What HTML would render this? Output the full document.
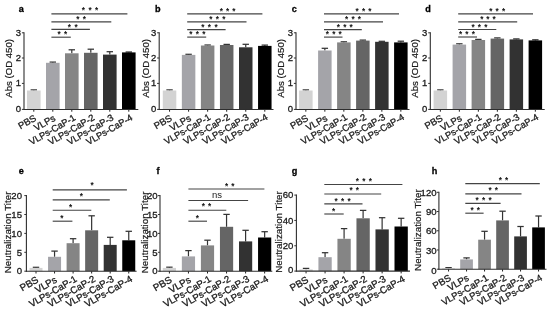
<!DOCTYPE html>
<html><head><meta charset="utf-8"><title>Figure</title>
<style>
html,body{margin:0;padding:0;background:#fff;overflow:hidden;}
svg{display:block;font-family:"Liberation Sans",sans-serif;filter:blur(0.35px);}
</style></head><body>
<svg width="550" height="312" viewBox="0 0 550 312">
<rect width="550" height="312" fill="#ffffff"/>
<line x1="33.80" y1="90.50" x2="33.80" y2="89.90" stroke="#333" stroke-width="1.2"/>
<line x1="30.60" y1="89.90" x2="37.00" y2="89.90" stroke="#333" stroke-width="1.25"/>
<rect x="27.00" y="90.50" width="13.6" height="18.90" fill="#d3d3d3"/>
<line x1="33.80" y1="109.40" x2="33.80" y2="111.70" stroke="#222" stroke-width="1.0"/>
<text transform="translate(37.00,120.00) rotate(-30)" font-size="9.5" text-anchor="end" fill="#1a1a1a" stroke="#1a1a1a" stroke-width="0.3">PBS</text>
<line x1="52.80" y1="62.80" x2="52.80" y2="62.10" stroke="#333" stroke-width="1.2"/>
<line x1="49.60" y1="62.10" x2="56.00" y2="62.10" stroke="#333" stroke-width="1.25"/>
<rect x="46.00" y="62.80" width="13.6" height="46.60" fill="#a4a4a9"/>
<line x1="52.80" y1="109.40" x2="52.80" y2="111.70" stroke="#222" stroke-width="1.0"/>
<text transform="translate(56.00,120.00) rotate(-30)" font-size="9.5" text-anchor="end" fill="#1a1a1a" stroke="#1a1a1a" stroke-width="0.3">VLPs</text>
<line x1="71.80" y1="53.30" x2="71.80" y2="49.80" stroke="#333" stroke-width="1.2"/>
<line x1="68.60" y1="49.80" x2="75.00" y2="49.80" stroke="#333" stroke-width="1.25"/>
<rect x="65.00" y="53.30" width="13.6" height="56.10" fill="#858585"/>
<line x1="71.80" y1="109.40" x2="71.80" y2="111.70" stroke="#222" stroke-width="1.0"/>
<text transform="translate(76.30,119.50) rotate(-30)" font-size="9.3" text-anchor="end" fill="#1a1a1a" stroke="#1a1a1a" stroke-width="0.3">VLPs-CaP-1</text>
<line x1="90.80" y1="52.80" x2="90.80" y2="49.20" stroke="#333" stroke-width="1.2"/>
<line x1="87.60" y1="49.20" x2="94.00" y2="49.20" stroke="#333" stroke-width="1.25"/>
<rect x="84.00" y="52.80" width="13.6" height="56.60" fill="#656565"/>
<line x1="90.80" y1="109.40" x2="90.80" y2="111.70" stroke="#222" stroke-width="1.0"/>
<text transform="translate(95.30,119.50) rotate(-30)" font-size="9.3" text-anchor="end" fill="#1a1a1a" stroke="#1a1a1a" stroke-width="0.3">VLPs-CaP-2</text>
<line x1="109.80" y1="54.60" x2="109.80" y2="51.70" stroke="#333" stroke-width="1.2"/>
<line x1="106.60" y1="51.70" x2="113.00" y2="51.70" stroke="#333" stroke-width="1.25"/>
<rect x="103.00" y="54.60" width="13.6" height="54.80" fill="#323232"/>
<line x1="109.80" y1="109.40" x2="109.80" y2="111.70" stroke="#222" stroke-width="1.0"/>
<text transform="translate(114.30,119.50) rotate(-30)" font-size="9.3" text-anchor="end" fill="#1a1a1a" stroke="#1a1a1a" stroke-width="0.3">VLPs-CaP-3</text>
<line x1="128.80" y1="52.40" x2="128.80" y2="52.00" stroke="#333" stroke-width="1.2"/>
<line x1="125.60" y1="52.00" x2="132.00" y2="52.00" stroke="#333" stroke-width="1.25"/>
<rect x="122.00" y="52.40" width="13.6" height="57.00" fill="#000000"/>
<line x1="128.80" y1="109.40" x2="128.80" y2="111.70" stroke="#222" stroke-width="1.0"/>
<text transform="translate(133.30,119.50) rotate(-30)" font-size="9.3" text-anchor="end" fill="#1a1a1a" stroke="#1a1a1a" stroke-width="0.3">VLPs-CaP-4</text>
<line x1="24.00" y1="32.30" x2="24.00" y2="109.90" stroke="#2e2e2e" stroke-width="1.1"/>
<line x1="23.50" y1="109.40" x2="138.30" y2="109.40" stroke="#2e2e2e" stroke-width="1.05"/>
<line x1="21.90" y1="109.40" x2="24.00" y2="109.40" stroke="#333" stroke-width="1.0"/>
<text x="21.10" y="112.00" font-size="9.5" text-anchor="end" fill="#1a1a1a" stroke="#1a1a1a" stroke-width="0.3">0</text>
<line x1="21.90" y1="83.40" x2="24.00" y2="83.40" stroke="#333" stroke-width="1.0"/>
<text x="21.10" y="86.00" font-size="9.5" text-anchor="end" fill="#1a1a1a" stroke="#1a1a1a" stroke-width="0.3">1</text>
<line x1="21.90" y1="58.00" x2="24.00" y2="58.00" stroke="#333" stroke-width="1.0"/>
<text x="21.10" y="61.00" font-size="9.5" text-anchor="end" fill="#1a1a1a" stroke="#1a1a1a" stroke-width="0.3">2</text>
<line x1="21.90" y1="32.80" x2="24.00" y2="32.80" stroke="#333" stroke-width="1.0"/>
<text x="21.10" y="36.00" font-size="9.5" text-anchor="end" fill="#1a1a1a" stroke="#1a1a1a" stroke-width="0.3">3</text>
<text transform="translate(11.60,68.40) rotate(-90)" font-size="9.6" text-anchor="middle" fill="#1a1a1a" stroke="#1a1a1a" stroke-width="0.2">Abs (OD 450)</text>
<text x="18.80" y="11.80" font-size="9.1" text-anchor="start" fill="#000" font-weight="bold" stroke="#000" stroke-width="0.3">a</text>
<line x1="51.40" y1="13.80" x2="127.40" y2="13.80" stroke="#444" stroke-width="1.15"/>
<text x="83.40" y="13.40" font-size="8.2" text-anchor="middle" fill="#111" font-weight="bold">*</text>
<text x="90.00" y="13.40" font-size="8.2" text-anchor="middle" fill="#111" font-weight="bold">*</text>
<text x="96.50" y="13.40" font-size="8.2" text-anchor="middle" fill="#111" font-weight="bold">*</text>
<line x1="51.40" y1="21.90" x2="111.30" y2="21.90" stroke="#444" stroke-width="1.15"/>
<text x="77.80" y="21.70" font-size="8.2" text-anchor="middle" fill="#111" font-weight="bold">*</text>
<text x="84.30" y="21.70" font-size="8.2" text-anchor="middle" fill="#111" font-weight="bold">*</text>
<line x1="51.40" y1="29.40" x2="89.90" y2="29.40" stroke="#444" stroke-width="1.15"/>
<text x="69.40" y="29.70" font-size="8.2" text-anchor="middle" fill="#111" font-weight="bold">*</text>
<text x="76.00" y="29.70" font-size="8.2" text-anchor="middle" fill="#111" font-weight="bold">*</text>
<line x1="51.40" y1="37.20" x2="70.80" y2="37.20" stroke="#444" stroke-width="1.15"/>
<text x="59.00" y="37.30" font-size="8.2" text-anchor="middle" fill="#111" font-weight="bold">*</text>
<text x="65.60" y="37.30" font-size="8.2" text-anchor="middle" fill="#111" font-weight="bold">*</text>
<line x1="169.55" y1="90.50" x2="169.55" y2="89.90" stroke="#333" stroke-width="1.2"/>
<line x1="166.35" y1="89.90" x2="172.75" y2="89.90" stroke="#333" stroke-width="1.25"/>
<rect x="162.80" y="90.50" width="13.5" height="18.90" fill="#d3d3d3"/>
<line x1="169.55" y1="109.40" x2="169.55" y2="111.70" stroke="#222" stroke-width="1.0"/>
<text transform="translate(172.75,120.00) rotate(-30)" font-size="9.5" text-anchor="end" fill="#1a1a1a" stroke="#1a1a1a" stroke-width="0.3">PBS</text>
<line x1="188.60" y1="54.90" x2="188.60" y2="54.30" stroke="#333" stroke-width="1.2"/>
<line x1="185.40" y1="54.30" x2="191.80" y2="54.30" stroke="#333" stroke-width="1.25"/>
<rect x="181.85" y="54.90" width="13.5" height="54.50" fill="#a4a4a9"/>
<line x1="188.60" y1="109.40" x2="188.60" y2="111.70" stroke="#222" stroke-width="1.0"/>
<text transform="translate(191.80,120.00) rotate(-30)" font-size="9.5" text-anchor="end" fill="#1a1a1a" stroke="#1a1a1a" stroke-width="0.3">VLPs</text>
<line x1="207.65" y1="45.50" x2="207.65" y2="45.00" stroke="#333" stroke-width="1.2"/>
<line x1="204.45" y1="45.00" x2="210.85" y2="45.00" stroke="#333" stroke-width="1.25"/>
<rect x="200.90" y="45.50" width="13.5" height="63.90" fill="#858585"/>
<line x1="207.65" y1="109.40" x2="207.65" y2="111.70" stroke="#222" stroke-width="1.0"/>
<text transform="translate(211.35,119.00) rotate(-30)" font-size="9.3" text-anchor="end" fill="#1a1a1a" stroke="#1a1a1a" stroke-width="0.3">VLPs-CaP-1</text>
<line x1="226.70" y1="45.00" x2="226.70" y2="44.40" stroke="#333" stroke-width="1.2"/>
<line x1="223.50" y1="44.40" x2="229.90" y2="44.40" stroke="#333" stroke-width="1.25"/>
<rect x="219.95" y="45.00" width="13.5" height="64.40" fill="#656565"/>
<line x1="226.70" y1="109.40" x2="226.70" y2="111.70" stroke="#222" stroke-width="1.0"/>
<text transform="translate(230.40,119.00) rotate(-30)" font-size="9.3" text-anchor="end" fill="#1a1a1a" stroke="#1a1a1a" stroke-width="0.3">VLPs-CaP-2</text>
<line x1="245.75" y1="47.30" x2="245.75" y2="44.30" stroke="#333" stroke-width="1.2"/>
<line x1="242.55" y1="44.30" x2="248.95" y2="44.30" stroke="#333" stroke-width="1.25"/>
<rect x="239.00" y="47.30" width="13.5" height="62.10" fill="#323232"/>
<line x1="245.75" y1="109.40" x2="245.75" y2="111.70" stroke="#222" stroke-width="1.0"/>
<text transform="translate(249.45,119.00) rotate(-30)" font-size="9.3" text-anchor="end" fill="#1a1a1a" stroke="#1a1a1a" stroke-width="0.3">VLPs-CaP-3</text>
<line x1="264.80" y1="45.90" x2="264.80" y2="45.10" stroke="#333" stroke-width="1.2"/>
<line x1="261.60" y1="45.10" x2="268.00" y2="45.10" stroke="#333" stroke-width="1.25"/>
<rect x="258.05" y="45.90" width="13.5" height="63.50" fill="#000000"/>
<line x1="264.80" y1="109.40" x2="264.80" y2="111.70" stroke="#222" stroke-width="1.0"/>
<text transform="translate(268.50,119.00) rotate(-30)" font-size="9.3" text-anchor="end" fill="#1a1a1a" stroke="#1a1a1a" stroke-width="0.3">VLPs-CaP-4</text>
<line x1="159.20" y1="32.30" x2="159.20" y2="109.90" stroke="#2e2e2e" stroke-width="1.1"/>
<line x1="158.70" y1="109.40" x2="273.50" y2="109.40" stroke="#2e2e2e" stroke-width="1.05"/>
<line x1="157.10" y1="109.40" x2="159.20" y2="109.40" stroke="#333" stroke-width="1.0"/>
<text x="156.30" y="112.00" font-size="9.5" text-anchor="end" fill="#1a1a1a" stroke="#1a1a1a" stroke-width="0.3">0</text>
<line x1="157.10" y1="83.40" x2="159.20" y2="83.40" stroke="#333" stroke-width="1.0"/>
<text x="156.30" y="86.00" font-size="9.5" text-anchor="end" fill="#1a1a1a" stroke="#1a1a1a" stroke-width="0.3">1</text>
<line x1="157.10" y1="58.00" x2="159.20" y2="58.00" stroke="#333" stroke-width="1.0"/>
<text x="156.30" y="61.00" font-size="9.5" text-anchor="end" fill="#1a1a1a" stroke="#1a1a1a" stroke-width="0.3">2</text>
<line x1="157.10" y1="32.80" x2="159.20" y2="32.80" stroke="#333" stroke-width="1.0"/>
<text x="156.30" y="36.00" font-size="9.5" text-anchor="end" fill="#1a1a1a" stroke="#1a1a1a" stroke-width="0.3">3</text>
<text transform="translate(148.80,68.40) rotate(-90)" font-size="9.6" text-anchor="middle" fill="#1a1a1a" stroke="#1a1a1a" stroke-width="0.2">Abs (OD 450)</text>
<text x="155.10" y="11.80" font-size="9.1" text-anchor="start" fill="#000" font-weight="bold" stroke="#000" stroke-width="0.3">b</text>
<line x1="187.20" y1="13.80" x2="262.40" y2="13.80" stroke="#444" stroke-width="1.15"/>
<text x="221.40" y="13.50" font-size="8.2" text-anchor="middle" fill="#111" font-weight="bold">*</text>
<text x="227.60" y="13.50" font-size="8.2" text-anchor="middle" fill="#111" font-weight="bold">*</text>
<text x="233.80" y="13.50" font-size="8.2" text-anchor="middle" fill="#111" font-weight="bold">*</text>
<line x1="187.20" y1="21.90" x2="246.50" y2="21.90" stroke="#444" stroke-width="1.15"/>
<text x="210.90" y="21.80" font-size="8.2" text-anchor="middle" fill="#111" font-weight="bold">*</text>
<text x="217.30" y="21.80" font-size="8.2" text-anchor="middle" fill="#111" font-weight="bold">*</text>
<text x="223.80" y="21.80" font-size="8.2" text-anchor="middle" fill="#111" font-weight="bold">*</text>
<line x1="187.20" y1="29.60" x2="225.60" y2="29.60" stroke="#444" stroke-width="1.15"/>
<text x="202.80" y="29.60" font-size="8.2" text-anchor="middle" fill="#111" font-weight="bold">*</text>
<text x="209.40" y="29.60" font-size="8.2" text-anchor="middle" fill="#111" font-weight="bold">*</text>
<text x="216.00" y="29.60" font-size="8.2" text-anchor="middle" fill="#111" font-weight="bold">*</text>
<line x1="187.20" y1="37.10" x2="206.20" y2="37.10" stroke="#444" stroke-width="1.15"/>
<text x="190.90" y="37.10" font-size="8.2" text-anchor="middle" fill="#111" font-weight="bold">*</text>
<text x="197.30" y="37.10" font-size="8.2" text-anchor="middle" fill="#111" font-weight="bold">*</text>
<text x="203.80" y="37.10" font-size="8.2" text-anchor="middle" fill="#111" font-weight="bold">*</text>
<line x1="305.85" y1="90.50" x2="305.85" y2="89.90" stroke="#333" stroke-width="1.2"/>
<line x1="302.65" y1="89.90" x2="309.05" y2="89.90" stroke="#333" stroke-width="1.25"/>
<rect x="299.10" y="90.50" width="13.5" height="18.90" fill="#d3d3d3"/>
<line x1="305.85" y1="109.40" x2="305.85" y2="111.70" stroke="#222" stroke-width="1.0"/>
<text transform="translate(309.05,120.00) rotate(-30)" font-size="9.5" text-anchor="end" fill="#1a1a1a" stroke="#1a1a1a" stroke-width="0.3">PBS</text>
<line x1="324.85" y1="50.50" x2="324.85" y2="48.30" stroke="#333" stroke-width="1.2"/>
<line x1="321.65" y1="48.30" x2="328.05" y2="48.30" stroke="#333" stroke-width="1.25"/>
<rect x="318.10" y="50.50" width="13.5" height="58.90" fill="#a4a4a9"/>
<line x1="324.85" y1="109.40" x2="324.85" y2="111.70" stroke="#222" stroke-width="1.0"/>
<text transform="translate(328.05,120.00) rotate(-30)" font-size="9.5" text-anchor="end" fill="#1a1a1a" stroke="#1a1a1a" stroke-width="0.3">VLPs</text>
<line x1="343.85" y1="42.40" x2="343.85" y2="41.80" stroke="#333" stroke-width="1.2"/>
<line x1="340.65" y1="41.80" x2="347.05" y2="41.80" stroke="#333" stroke-width="1.25"/>
<rect x="337.10" y="42.40" width="13.5" height="67.00" fill="#858585"/>
<line x1="343.85" y1="109.40" x2="343.85" y2="111.70" stroke="#222" stroke-width="1.0"/>
<text transform="translate(348.05,119.00) rotate(-30)" font-size="9.3" text-anchor="end" fill="#1a1a1a" stroke="#1a1a1a" stroke-width="0.3">VLPs-CaP-1</text>
<line x1="362.85" y1="40.60" x2="362.85" y2="40.10" stroke="#333" stroke-width="1.2"/>
<line x1="359.65" y1="40.10" x2="366.05" y2="40.10" stroke="#333" stroke-width="1.25"/>
<rect x="356.10" y="40.60" width="13.5" height="68.80" fill="#656565"/>
<line x1="362.85" y1="109.40" x2="362.85" y2="111.70" stroke="#222" stroke-width="1.0"/>
<text transform="translate(367.05,119.00) rotate(-30)" font-size="9.3" text-anchor="end" fill="#1a1a1a" stroke="#1a1a1a" stroke-width="0.3">VLPs-CaP-2</text>
<line x1="381.85" y1="41.80" x2="381.85" y2="41.30" stroke="#333" stroke-width="1.2"/>
<line x1="378.65" y1="41.30" x2="385.05" y2="41.30" stroke="#333" stroke-width="1.25"/>
<rect x="375.10" y="41.80" width="13.5" height="67.60" fill="#323232"/>
<line x1="381.85" y1="109.40" x2="381.85" y2="111.70" stroke="#222" stroke-width="1.0"/>
<text transform="translate(386.05,119.00) rotate(-30)" font-size="9.3" text-anchor="end" fill="#1a1a1a" stroke="#1a1a1a" stroke-width="0.3">VLPs-CaP-3</text>
<line x1="400.85" y1="42.40" x2="400.85" y2="41.20" stroke="#333" stroke-width="1.2"/>
<line x1="397.65" y1="41.20" x2="404.05" y2="41.20" stroke="#333" stroke-width="1.25"/>
<rect x="394.10" y="42.40" width="13.5" height="67.00" fill="#000000"/>
<line x1="400.85" y1="109.40" x2="400.85" y2="111.70" stroke="#222" stroke-width="1.0"/>
<text transform="translate(405.05,119.00) rotate(-30)" font-size="9.3" text-anchor="end" fill="#1a1a1a" stroke="#1a1a1a" stroke-width="0.3">VLPs-CaP-4</text>
<line x1="296.00" y1="32.30" x2="296.00" y2="109.90" stroke="#2e2e2e" stroke-width="1.1"/>
<line x1="295.50" y1="109.40" x2="409.50" y2="109.40" stroke="#2e2e2e" stroke-width="1.05"/>
<line x1="293.90" y1="109.40" x2="296.00" y2="109.40" stroke="#333" stroke-width="1.0"/>
<text x="293.10" y="112.00" font-size="9.5" text-anchor="end" fill="#1a1a1a" stroke="#1a1a1a" stroke-width="0.3">0</text>
<line x1="293.90" y1="83.40" x2="296.00" y2="83.40" stroke="#333" stroke-width="1.0"/>
<text x="293.10" y="86.00" font-size="9.5" text-anchor="end" fill="#1a1a1a" stroke="#1a1a1a" stroke-width="0.3">1</text>
<line x1="293.90" y1="58.00" x2="296.00" y2="58.00" stroke="#333" stroke-width="1.0"/>
<text x="293.10" y="61.00" font-size="9.5" text-anchor="end" fill="#1a1a1a" stroke="#1a1a1a" stroke-width="0.3">2</text>
<line x1="293.90" y1="32.80" x2="296.00" y2="32.80" stroke="#333" stroke-width="1.0"/>
<text x="293.10" y="36.00" font-size="9.5" text-anchor="end" fill="#1a1a1a" stroke="#1a1a1a" stroke-width="0.3">3</text>
<text transform="translate(284.20,68.40) rotate(-90)" font-size="9.6" text-anchor="middle" fill="#1a1a1a" stroke="#1a1a1a" stroke-width="0.2">Abs (OD 450)</text>
<text x="291.80" y="11.80" font-size="9.1" text-anchor="start" fill="#000" font-weight="bold" stroke="#000" stroke-width="0.3">c</text>
<line x1="324.00" y1="13.80" x2="399.00" y2="13.80" stroke="#444" stroke-width="1.15"/>
<text x="357.20" y="13.50" font-size="8.2" text-anchor="middle" fill="#111" font-weight="bold">*</text>
<text x="363.50" y="13.50" font-size="8.2" text-anchor="middle" fill="#111" font-weight="bold">*</text>
<text x="369.80" y="13.50" font-size="8.2" text-anchor="middle" fill="#111" font-weight="bold">*</text>
<line x1="324.00" y1="21.90" x2="383.00" y2="21.90" stroke="#444" stroke-width="1.15"/>
<text x="346.60" y="21.80" font-size="8.2" text-anchor="middle" fill="#111" font-weight="bold">*</text>
<text x="353.00" y="21.80" font-size="8.2" text-anchor="middle" fill="#111" font-weight="bold">*</text>
<text x="359.40" y="21.80" font-size="8.2" text-anchor="middle" fill="#111" font-weight="bold">*</text>
<line x1="324.00" y1="29.60" x2="361.80" y2="29.60" stroke="#444" stroke-width="1.15"/>
<text x="338.40" y="29.60" font-size="8.2" text-anchor="middle" fill="#111" font-weight="bold">*</text>
<text x="344.80" y="29.60" font-size="8.2" text-anchor="middle" fill="#111" font-weight="bold">*</text>
<text x="351.20" y="29.60" font-size="8.2" text-anchor="middle" fill="#111" font-weight="bold">*</text>
<line x1="324.00" y1="37.10" x2="342.50" y2="37.10" stroke="#444" stroke-width="1.15"/>
<text x="327.40" y="37.10" font-size="8.2" text-anchor="middle" fill="#111" font-weight="bold">*</text>
<text x="333.80" y="37.10" font-size="8.2" text-anchor="middle" fill="#111" font-weight="bold">*</text>
<text x="340.20" y="37.10" font-size="8.2" text-anchor="middle" fill="#111" font-weight="bold">*</text>
<line x1="440.35" y1="90.50" x2="440.35" y2="89.90" stroke="#333" stroke-width="1.2"/>
<line x1="437.15" y1="89.90" x2="443.55" y2="89.90" stroke="#333" stroke-width="1.25"/>
<rect x="433.60" y="90.50" width="13.5" height="18.90" fill="#d3d3d3"/>
<line x1="440.35" y1="109.40" x2="440.35" y2="111.70" stroke="#222" stroke-width="1.0"/>
<text transform="translate(443.55,120.00) rotate(-30)" font-size="9.5" text-anchor="end" fill="#1a1a1a" stroke="#1a1a1a" stroke-width="0.3">PBS</text>
<line x1="459.35" y1="44.60" x2="459.35" y2="43.80" stroke="#333" stroke-width="1.2"/>
<line x1="456.15" y1="43.80" x2="462.55" y2="43.80" stroke="#333" stroke-width="1.25"/>
<rect x="452.60" y="44.60" width="13.5" height="64.80" fill="#a4a4a9"/>
<line x1="459.35" y1="109.40" x2="459.35" y2="111.70" stroke="#222" stroke-width="1.0"/>
<text transform="translate(462.55,120.00) rotate(-30)" font-size="9.5" text-anchor="end" fill="#1a1a1a" stroke="#1a1a1a" stroke-width="0.3">VLPs</text>
<line x1="478.35" y1="40.00" x2="478.35" y2="39.40" stroke="#333" stroke-width="1.2"/>
<line x1="475.15" y1="39.40" x2="481.55" y2="39.40" stroke="#333" stroke-width="1.25"/>
<rect x="471.60" y="40.00" width="13.5" height="69.40" fill="#858585"/>
<line x1="478.35" y1="109.40" x2="478.35" y2="111.70" stroke="#222" stroke-width="1.0"/>
<text transform="translate(482.35,119.00) rotate(-30)" font-size="9.3" text-anchor="end" fill="#1a1a1a" stroke="#1a1a1a" stroke-width="0.3">VLPs-CaP-1</text>
<line x1="497.35" y1="38.60" x2="497.35" y2="37.90" stroke="#333" stroke-width="1.2"/>
<line x1="494.15" y1="37.90" x2="500.55" y2="37.90" stroke="#333" stroke-width="1.25"/>
<rect x="490.60" y="38.60" width="13.5" height="70.80" fill="#656565"/>
<line x1="497.35" y1="109.40" x2="497.35" y2="111.70" stroke="#222" stroke-width="1.0"/>
<text transform="translate(501.35,119.00) rotate(-30)" font-size="9.3" text-anchor="end" fill="#1a1a1a" stroke="#1a1a1a" stroke-width="0.3">VLPs-CaP-2</text>
<line x1="516.35" y1="39.40" x2="516.35" y2="38.90" stroke="#333" stroke-width="1.2"/>
<line x1="513.15" y1="38.90" x2="519.55" y2="38.90" stroke="#333" stroke-width="1.25"/>
<rect x="509.60" y="39.40" width="13.5" height="70.00" fill="#323232"/>
<line x1="516.35" y1="109.40" x2="516.35" y2="111.70" stroke="#222" stroke-width="1.0"/>
<text transform="translate(520.35,119.00) rotate(-30)" font-size="9.3" text-anchor="end" fill="#1a1a1a" stroke="#1a1a1a" stroke-width="0.3">VLPs-CaP-3</text>
<line x1="535.35" y1="40.40" x2="535.35" y2="39.80" stroke="#333" stroke-width="1.2"/>
<line x1="532.15" y1="39.80" x2="538.55" y2="39.80" stroke="#333" stroke-width="1.25"/>
<rect x="528.60" y="40.40" width="13.5" height="69.00" fill="#000000"/>
<line x1="535.35" y1="109.40" x2="535.35" y2="111.70" stroke="#222" stroke-width="1.0"/>
<text transform="translate(539.35,119.00) rotate(-30)" font-size="9.3" text-anchor="end" fill="#1a1a1a" stroke="#1a1a1a" stroke-width="0.3">VLPs-CaP-4</text>
<line x1="430.30" y1="32.30" x2="430.30" y2="109.90" stroke="#2e2e2e" stroke-width="1.1"/>
<line x1="429.80" y1="109.40" x2="544.70" y2="109.40" stroke="#2e2e2e" stroke-width="1.05"/>
<line x1="428.20" y1="109.40" x2="430.30" y2="109.40" stroke="#333" stroke-width="1.0"/>
<text x="427.40" y="112.00" font-size="9.5" text-anchor="end" fill="#1a1a1a" stroke="#1a1a1a" stroke-width="0.3">0</text>
<line x1="428.20" y1="83.40" x2="430.30" y2="83.40" stroke="#333" stroke-width="1.0"/>
<text x="427.40" y="86.00" font-size="9.5" text-anchor="end" fill="#1a1a1a" stroke="#1a1a1a" stroke-width="0.3">1</text>
<line x1="428.20" y1="58.00" x2="430.30" y2="58.00" stroke="#333" stroke-width="1.0"/>
<text x="427.40" y="61.00" font-size="9.5" text-anchor="end" fill="#1a1a1a" stroke="#1a1a1a" stroke-width="0.3">2</text>
<line x1="428.20" y1="32.80" x2="430.30" y2="32.80" stroke="#333" stroke-width="1.0"/>
<text x="427.40" y="36.00" font-size="9.5" text-anchor="end" fill="#1a1a1a" stroke="#1a1a1a" stroke-width="0.3">3</text>
<text transform="translate(418.40,68.40) rotate(-90)" font-size="9.6" text-anchor="middle" fill="#1a1a1a" stroke="#1a1a1a" stroke-width="0.2">Abs (OD 450)</text>
<text x="425.30" y="11.80" font-size="9.1" text-anchor="start" fill="#000" font-weight="bold" stroke="#000" stroke-width="0.3">d</text>
<line x1="458.20" y1="13.80" x2="533.00" y2="13.80" stroke="#444" stroke-width="1.15"/>
<text x="490.80" y="13.50" font-size="8.2" text-anchor="middle" fill="#111" font-weight="bold">*</text>
<text x="497.20" y="13.50" font-size="8.2" text-anchor="middle" fill="#111" font-weight="bold">*</text>
<text x="503.60" y="13.50" font-size="8.2" text-anchor="middle" fill="#111" font-weight="bold">*</text>
<line x1="458.20" y1="21.90" x2="517.20" y2="21.90" stroke="#444" stroke-width="1.15"/>
<text x="481.80" y="21.80" font-size="8.2" text-anchor="middle" fill="#111" font-weight="bold">*</text>
<text x="487.90" y="21.80" font-size="8.2" text-anchor="middle" fill="#111" font-weight="bold">*</text>
<text x="494.00" y="21.80" font-size="8.2" text-anchor="middle" fill="#111" font-weight="bold">*</text>
<line x1="458.20" y1="29.50" x2="496.30" y2="29.50" stroke="#444" stroke-width="1.15"/>
<text x="473.00" y="29.60" font-size="8.2" text-anchor="middle" fill="#111" font-weight="bold">*</text>
<text x="479.40" y="29.60" font-size="8.2" text-anchor="middle" fill="#111" font-weight="bold">*</text>
<text x="485.80" y="29.60" font-size="8.2" text-anchor="middle" fill="#111" font-weight="bold">*</text>
<line x1="458.20" y1="37.00" x2="477.00" y2="37.00" stroke="#444" stroke-width="1.15"/>
<text x="460.50" y="37.20" font-size="8.2" text-anchor="middle" fill="#111" font-weight="bold">*</text>
<text x="466.90" y="37.20" font-size="8.2" text-anchor="middle" fill="#111" font-weight="bold">*</text>
<text x="473.30" y="37.20" font-size="8.2" text-anchor="middle" fill="#111" font-weight="bold">*</text>
<line x1="36.00" y1="267.90" x2="36.00" y2="267.30" stroke="#333" stroke-width="1.2"/>
<line x1="32.80" y1="267.30" x2="39.20" y2="267.30" stroke="#333" stroke-width="1.25"/>
<rect x="29.50" y="267.90" width="13.0" height="3.30" fill="#d3d3d3"/>
<line x1="36.00" y1="271.20" x2="36.00" y2="273.50" stroke="#222" stroke-width="1.0"/>
<text transform="translate(39.20,281.80) rotate(-30)" font-size="9.8" text-anchor="end" fill="#1a1a1a" stroke="#1a1a1a" stroke-width="0.3">PBS</text>
<line x1="54.55" y1="256.80" x2="54.55" y2="251.10" stroke="#333" stroke-width="1.2"/>
<line x1="51.35" y1="251.10" x2="57.75" y2="251.10" stroke="#333" stroke-width="1.25"/>
<rect x="48.05" y="256.80" width="13.0" height="14.40" fill="#a4a4a9"/>
<line x1="54.55" y1="271.20" x2="54.55" y2="273.50" stroke="#222" stroke-width="1.0"/>
<text transform="translate(57.75,281.80) rotate(-30)" font-size="9.8" text-anchor="end" fill="#1a1a1a" stroke="#1a1a1a" stroke-width="0.3">VLPs</text>
<line x1="73.10" y1="243.20" x2="73.10" y2="238.70" stroke="#333" stroke-width="1.2"/>
<line x1="69.90" y1="238.70" x2="76.30" y2="238.70" stroke="#333" stroke-width="1.25"/>
<rect x="66.60" y="243.20" width="13.0" height="28.00" fill="#858585"/>
<line x1="73.10" y1="271.20" x2="73.10" y2="273.50" stroke="#222" stroke-width="1.0"/>
<text transform="translate(77.60,280.90) rotate(-30)" font-size="9.6" text-anchor="end" fill="#1a1a1a" stroke="#1a1a1a" stroke-width="0.3">VLPs-CaP-1</text>
<line x1="91.65" y1="230.30" x2="91.65" y2="215.80" stroke="#333" stroke-width="1.2"/>
<line x1="88.45" y1="215.80" x2="94.85" y2="215.80" stroke="#333" stroke-width="1.25"/>
<rect x="85.15" y="230.30" width="13.0" height="40.90" fill="#656565"/>
<line x1="91.65" y1="271.20" x2="91.65" y2="273.50" stroke="#222" stroke-width="1.0"/>
<text transform="translate(96.15,280.90) rotate(-30)" font-size="9.6" text-anchor="end" fill="#1a1a1a" stroke="#1a1a1a" stroke-width="0.3">VLPs-CaP-2</text>
<line x1="110.20" y1="244.90" x2="110.20" y2="237.30" stroke="#333" stroke-width="1.2"/>
<line x1="107.00" y1="237.30" x2="113.40" y2="237.30" stroke="#333" stroke-width="1.25"/>
<rect x="103.70" y="244.90" width="13.0" height="26.30" fill="#323232"/>
<line x1="110.20" y1="271.20" x2="110.20" y2="273.50" stroke="#222" stroke-width="1.0"/>
<text transform="translate(114.70,280.90) rotate(-30)" font-size="9.6" text-anchor="end" fill="#1a1a1a" stroke="#1a1a1a" stroke-width="0.3">VLPs-CaP-3</text>
<line x1="128.75" y1="240.30" x2="128.75" y2="231.30" stroke="#333" stroke-width="1.2"/>
<line x1="125.55" y1="231.30" x2="131.95" y2="231.30" stroke="#333" stroke-width="1.25"/>
<rect x="122.25" y="240.30" width="13.0" height="30.90" fill="#000000"/>
<line x1="128.75" y1="271.20" x2="128.75" y2="273.50" stroke="#222" stroke-width="1.0"/>
<text transform="translate(133.25,280.90) rotate(-30)" font-size="9.6" text-anchor="end" fill="#1a1a1a" stroke="#1a1a1a" stroke-width="0.3">VLPs-CaP-4</text>
<line x1="26.40" y1="195.10" x2="26.40" y2="271.70" stroke="#2e2e2e" stroke-width="1.1"/>
<line x1="25.90" y1="271.20" x2="136.60" y2="271.20" stroke="#2e2e2e" stroke-width="1.05"/>
<line x1="24.30" y1="271.20" x2="26.40" y2="271.20" stroke="#333" stroke-width="1.0"/>
<text x="22.00" y="274.00" font-size="9.6" text-anchor="end" fill="#1a1a1a" stroke="#1a1a1a" stroke-width="0.3">0</text>
<line x1="24.30" y1="252.30" x2="26.40" y2="252.30" stroke="#333" stroke-width="1.0"/>
<text x="22.00" y="256.00" font-size="9.6" text-anchor="end" fill="#1a1a1a" stroke="#1a1a1a" stroke-width="0.3">5</text>
<line x1="24.30" y1="233.40" x2="26.40" y2="233.40" stroke="#333" stroke-width="1.0"/>
<text x="22.00" y="237.00" font-size="9.6" text-anchor="end" fill="#1a1a1a" stroke="#1a1a1a" stroke-width="0.3">10</text>
<line x1="24.30" y1="214.50" x2="26.40" y2="214.50" stroke="#333" stroke-width="1.0"/>
<text x="22.00" y="218.00" font-size="9.6" text-anchor="end" fill="#1a1a1a" stroke="#1a1a1a" stroke-width="0.3">15</text>
<line x1="24.30" y1="195.60" x2="26.40" y2="195.60" stroke="#333" stroke-width="1.0"/>
<text x="22.00" y="199.00" font-size="9.6" text-anchor="end" fill="#1a1a1a" stroke="#1a1a1a" stroke-width="0.3">20</text>
<text transform="translate(11.30,232.40) rotate(-90)" font-size="9.8" text-anchor="middle" fill="#1a1a1a" stroke="#1a1a1a" stroke-width="0.2">Neutralization Titer</text>
<text x="18.80" y="174.40" font-size="9.1" text-anchor="start" fill="#000" font-weight="bold" stroke="#000" stroke-width="0.3">e</text>
<line x1="52.70" y1="189.80" x2="126.90" y2="189.80" stroke="#444" stroke-width="1.15"/>
<text x="92.00" y="188.30" font-size="8.2" text-anchor="middle" fill="#111" font-weight="bold">*</text>
<line x1="52.70" y1="199.80" x2="109.80" y2="199.80" stroke="#444" stroke-width="1.15"/>
<text x="81.40" y="199.10" font-size="8.2" text-anchor="middle" fill="#111" font-weight="bold">*</text>
<line x1="52.70" y1="210.20" x2="91.30" y2="210.20" stroke="#444" stroke-width="1.15"/>
<text x="70.60" y="209.50" font-size="8.2" text-anchor="middle" fill="#111" font-weight="bold">*</text>
<line x1="52.70" y1="221.20" x2="72.40" y2="221.20" stroke="#444" stroke-width="1.15"/>
<text x="61.80" y="221.00" font-size="8.2" text-anchor="middle" fill="#111" font-weight="bold">*</text>
<line x1="169.40" y1="267.90" x2="169.40" y2="267.20" stroke="#333" stroke-width="1.2"/>
<line x1="166.20" y1="267.20" x2="172.60" y2="267.20" stroke="#333" stroke-width="1.25"/>
<rect x="162.80" y="267.90" width="13.2" height="3.30" fill="#d3d3d3"/>
<line x1="169.40" y1="271.20" x2="169.40" y2="273.50" stroke="#222" stroke-width="1.0"/>
<text transform="translate(172.60,281.80) rotate(-30)" font-size="9.8" text-anchor="end" fill="#1a1a1a" stroke="#1a1a1a" stroke-width="0.3">PBS</text>
<line x1="188.45" y1="256.40" x2="188.45" y2="250.60" stroke="#333" stroke-width="1.2"/>
<line x1="185.25" y1="250.60" x2="191.65" y2="250.60" stroke="#333" stroke-width="1.25"/>
<rect x="181.85" y="256.40" width="13.2" height="14.80" fill="#a4a4a9"/>
<line x1="188.45" y1="271.20" x2="188.45" y2="273.50" stroke="#222" stroke-width="1.0"/>
<text transform="translate(191.65,281.80) rotate(-30)" font-size="9.8" text-anchor="end" fill="#1a1a1a" stroke="#1a1a1a" stroke-width="0.3">VLPs</text>
<line x1="207.50" y1="245.40" x2="207.50" y2="240.20" stroke="#333" stroke-width="1.2"/>
<line x1="204.30" y1="240.20" x2="210.70" y2="240.20" stroke="#333" stroke-width="1.25"/>
<rect x="200.90" y="245.40" width="13.2" height="25.80" fill="#858585"/>
<line x1="207.50" y1="271.20" x2="207.50" y2="273.50" stroke="#222" stroke-width="1.0"/>
<text transform="translate(212.00,280.90) rotate(-30)" font-size="9.6" text-anchor="end" fill="#1a1a1a" stroke="#1a1a1a" stroke-width="0.3">VLPs-CaP-1</text>
<line x1="226.55" y1="226.80" x2="226.55" y2="214.40" stroke="#333" stroke-width="1.2"/>
<line x1="223.35" y1="214.40" x2="229.75" y2="214.40" stroke="#333" stroke-width="1.25"/>
<rect x="219.95" y="226.80" width="13.2" height="44.40" fill="#656565"/>
<line x1="226.55" y1="271.20" x2="226.55" y2="273.50" stroke="#222" stroke-width="1.0"/>
<text transform="translate(231.05,280.90) rotate(-30)" font-size="9.6" text-anchor="end" fill="#1a1a1a" stroke="#1a1a1a" stroke-width="0.3">VLPs-CaP-2</text>
<line x1="245.60" y1="241.40" x2="245.60" y2="230.30" stroke="#333" stroke-width="1.2"/>
<line x1="242.40" y1="230.30" x2="248.80" y2="230.30" stroke="#333" stroke-width="1.25"/>
<rect x="239.00" y="241.40" width="13.2" height="29.80" fill="#323232"/>
<line x1="245.60" y1="271.20" x2="245.60" y2="273.50" stroke="#222" stroke-width="1.0"/>
<text transform="translate(250.10,280.90) rotate(-30)" font-size="9.6" text-anchor="end" fill="#1a1a1a" stroke="#1a1a1a" stroke-width="0.3">VLPs-CaP-3</text>
<line x1="264.65" y1="237.50" x2="264.65" y2="231.70" stroke="#333" stroke-width="1.2"/>
<line x1="261.45" y1="231.70" x2="267.85" y2="231.70" stroke="#333" stroke-width="1.25"/>
<rect x="258.05" y="237.50" width="13.2" height="33.70" fill="#000000"/>
<line x1="264.65" y1="271.20" x2="264.65" y2="273.50" stroke="#222" stroke-width="1.0"/>
<text transform="translate(269.15,280.90) rotate(-30)" font-size="9.6" text-anchor="end" fill="#1a1a1a" stroke="#1a1a1a" stroke-width="0.3">VLPs-CaP-4</text>
<line x1="160.00" y1="195.10" x2="160.00" y2="271.70" stroke="#2e2e2e" stroke-width="1.1"/>
<line x1="159.50" y1="271.20" x2="272.30" y2="271.20" stroke="#2e2e2e" stroke-width="1.05"/>
<line x1="157.90" y1="271.20" x2="160.00" y2="271.20" stroke="#333" stroke-width="1.0"/>
<text x="157.60" y="274.00" font-size="9.6" text-anchor="end" fill="#1a1a1a" stroke="#1a1a1a" stroke-width="0.3">0</text>
<line x1="157.90" y1="252.30" x2="160.00" y2="252.30" stroke="#333" stroke-width="1.0"/>
<text x="157.60" y="256.00" font-size="9.6" text-anchor="end" fill="#1a1a1a" stroke="#1a1a1a" stroke-width="0.3">5</text>
<line x1="157.90" y1="233.40" x2="160.00" y2="233.40" stroke="#333" stroke-width="1.0"/>
<text x="157.60" y="237.00" font-size="9.6" text-anchor="end" fill="#1a1a1a" stroke="#1a1a1a" stroke-width="0.3">10</text>
<line x1="157.90" y1="214.50" x2="160.00" y2="214.50" stroke="#333" stroke-width="1.0"/>
<text x="157.60" y="218.00" font-size="9.6" text-anchor="end" fill="#1a1a1a" stroke="#1a1a1a" stroke-width="0.3">15</text>
<line x1="157.90" y1="195.60" x2="160.00" y2="195.60" stroke="#333" stroke-width="1.0"/>
<text x="157.60" y="199.00" font-size="9.6" text-anchor="end" fill="#1a1a1a" stroke="#1a1a1a" stroke-width="0.3">20</text>
<text transform="translate(147.60,232.40) rotate(-90)" font-size="9.8" text-anchor="middle" fill="#1a1a1a" stroke="#1a1a1a" stroke-width="0.2">Neutralization Titer</text>
<text x="156.50" y="174.40" font-size="9.1" text-anchor="start" fill="#000" font-weight="bold" stroke="#000" stroke-width="0.3">f</text>
<line x1="188.40" y1="189.00" x2="264.40" y2="189.00" stroke="#444" stroke-width="1.15"/>
<text x="226.70" y="188.50" font-size="8.2" text-anchor="middle" fill="#111" font-weight="bold">*</text>
<text x="232.90" y="188.50" font-size="8.2" text-anchor="middle" fill="#111" font-weight="bold">*</text>
<line x1="188.40" y1="200.50" x2="248.10" y2="200.50" stroke="#444" stroke-width="1.15"/>
<text x="216.90" y="198.00" font-size="9.5" text-anchor="middle" fill="#1a1a1a" >ns</text>
<line x1="188.40" y1="210.20" x2="226.30" y2="210.20" stroke="#444" stroke-width="1.15"/>
<text x="203.40" y="209.30" font-size="8.2" text-anchor="middle" fill="#111" font-weight="bold">*</text>
<text x="209.60" y="209.30" font-size="8.2" text-anchor="middle" fill="#111" font-weight="bold">*</text>
<line x1="188.40" y1="221.20" x2="207.00" y2="221.20" stroke="#444" stroke-width="1.15"/>
<text x="197.30" y="220.90" font-size="8.2" text-anchor="middle" fill="#111" font-weight="bold">*</text>
<line x1="306.05" y1="269.40" x2="306.05" y2="268.40" stroke="#333" stroke-width="1.2"/>
<line x1="302.85" y1="268.40" x2="309.25" y2="268.40" stroke="#333" stroke-width="1.25"/>
<rect x="299.40" y="269.40" width="13.3" height="1.70" fill="#d3d3d3"/>
<line x1="306.05" y1="271.10" x2="306.05" y2="273.40" stroke="#222" stroke-width="1.0"/>
<text transform="translate(309.25,281.70) rotate(-30)" font-size="9.8" text-anchor="end" fill="#1a1a1a" stroke="#1a1a1a" stroke-width="0.3">PBS</text>
<line x1="325.07" y1="257.20" x2="325.07" y2="252.70" stroke="#333" stroke-width="1.2"/>
<line x1="321.87" y1="252.70" x2="328.27" y2="252.70" stroke="#333" stroke-width="1.25"/>
<rect x="318.42" y="257.20" width="13.3" height="13.90" fill="#a4a4a9"/>
<line x1="325.07" y1="271.10" x2="325.07" y2="273.40" stroke="#222" stroke-width="1.0"/>
<text transform="translate(328.27,281.70) rotate(-30)" font-size="9.8" text-anchor="end" fill="#1a1a1a" stroke="#1a1a1a" stroke-width="0.3">VLPs</text>
<line x1="344.09" y1="238.80" x2="344.09" y2="228.60" stroke="#333" stroke-width="1.2"/>
<line x1="340.89" y1="228.60" x2="347.29" y2="228.60" stroke="#333" stroke-width="1.25"/>
<rect x="337.44" y="238.80" width="13.3" height="32.30" fill="#858585"/>
<line x1="344.09" y1="271.10" x2="344.09" y2="273.40" stroke="#222" stroke-width="1.0"/>
<text transform="translate(348.59,280.80) rotate(-30)" font-size="9.6" text-anchor="end" fill="#1a1a1a" stroke="#1a1a1a" stroke-width="0.3">VLPs-CaP-1</text>
<line x1="363.11" y1="218.30" x2="363.11" y2="210.40" stroke="#333" stroke-width="1.2"/>
<line x1="359.91" y1="210.40" x2="366.31" y2="210.40" stroke="#333" stroke-width="1.25"/>
<rect x="356.46" y="218.30" width="13.3" height="52.80" fill="#656565"/>
<line x1="363.11" y1="271.10" x2="363.11" y2="273.40" stroke="#222" stroke-width="1.0"/>
<text transform="translate(367.61,280.80) rotate(-30)" font-size="9.6" text-anchor="end" fill="#1a1a1a" stroke="#1a1a1a" stroke-width="0.3">VLPs-CaP-2</text>
<line x1="382.13" y1="229.40" x2="382.13" y2="217.70" stroke="#333" stroke-width="1.2"/>
<line x1="378.93" y1="217.70" x2="385.33" y2="217.70" stroke="#333" stroke-width="1.25"/>
<rect x="375.48" y="229.40" width="13.3" height="41.70" fill="#323232"/>
<line x1="382.13" y1="271.10" x2="382.13" y2="273.40" stroke="#222" stroke-width="1.0"/>
<text transform="translate(386.63,280.80) rotate(-30)" font-size="9.6" text-anchor="end" fill="#1a1a1a" stroke="#1a1a1a" stroke-width="0.3">VLPs-CaP-3</text>
<line x1="401.15" y1="226.50" x2="401.15" y2="218.30" stroke="#333" stroke-width="1.2"/>
<line x1="397.95" y1="218.30" x2="404.35" y2="218.30" stroke="#333" stroke-width="1.25"/>
<rect x="394.50" y="226.50" width="13.3" height="44.60" fill="#000000"/>
<line x1="401.15" y1="271.10" x2="401.15" y2="273.40" stroke="#222" stroke-width="1.0"/>
<text transform="translate(405.65,280.80) rotate(-30)" font-size="9.6" text-anchor="end" fill="#1a1a1a" stroke="#1a1a1a" stroke-width="0.3">VLPs-CaP-4</text>
<line x1="296.40" y1="194.60" x2="296.40" y2="271.60" stroke="#2e2e2e" stroke-width="1.1"/>
<line x1="295.90" y1="271.10" x2="410.00" y2="271.10" stroke="#2e2e2e" stroke-width="1.05"/>
<line x1="294.30" y1="271.10" x2="296.40" y2="271.10" stroke="#333" stroke-width="1.0"/>
<text x="293.40" y="273.00" font-size="9.6" text-anchor="end" fill="#1a1a1a" stroke="#1a1a1a" stroke-width="0.3">0</text>
<line x1="294.30" y1="245.77" x2="296.40" y2="245.77" stroke="#333" stroke-width="1.0"/>
<text x="293.40" y="249.00" font-size="9.6" text-anchor="end" fill="#1a1a1a" stroke="#1a1a1a" stroke-width="0.3">20</text>
<line x1="294.30" y1="220.43" x2="296.40" y2="220.43" stroke="#333" stroke-width="1.0"/>
<text x="293.40" y="224.00" font-size="9.6" text-anchor="end" fill="#1a1a1a" stroke="#1a1a1a" stroke-width="0.3">40</text>
<line x1="294.30" y1="195.10" x2="296.40" y2="195.10" stroke="#333" stroke-width="1.0"/>
<text x="293.40" y="198.00" font-size="9.6" text-anchor="end" fill="#1a1a1a" stroke="#1a1a1a" stroke-width="0.3">60</text>
<text transform="translate(282.00,232.00) rotate(-90)" font-size="9.8" text-anchor="middle" fill="#1a1a1a" stroke="#1a1a1a" stroke-width="0.2">Neutralization Titer</text>
<text x="291.80" y="174.40" font-size="9.1" text-anchor="start" fill="#000" font-weight="bold" stroke="#000" stroke-width="0.3">g</text>
<line x1="324.30" y1="184.50" x2="402.40" y2="184.50" stroke="#444" stroke-width="1.15"/>
<text x="357.40" y="184.20" font-size="8.2" text-anchor="middle" fill="#111" font-weight="bold">*</text>
<text x="363.90" y="184.20" font-size="8.2" text-anchor="middle" fill="#111" font-weight="bold">*</text>
<text x="370.40" y="184.20" font-size="8.2" text-anchor="middle" fill="#111" font-weight="bold">*</text>
<line x1="324.30" y1="194.00" x2="381.20" y2="194.00" stroke="#444" stroke-width="1.15"/>
<text x="351.00" y="193.20" font-size="8.2" text-anchor="middle" fill="#111" font-weight="bold">*</text>
<text x="357.30" y="193.20" font-size="8.2" text-anchor="middle" fill="#111" font-weight="bold">*</text>
<line x1="324.30" y1="203.90" x2="362.50" y2="203.90" stroke="#444" stroke-width="1.15"/>
<text x="336.10" y="203.50" font-size="8.2" text-anchor="middle" fill="#111" font-weight="bold">*</text>
<text x="342.60" y="203.50" font-size="8.2" text-anchor="middle" fill="#111" font-weight="bold">*</text>
<text x="349.00" y="203.50" font-size="8.2" text-anchor="middle" fill="#111" font-weight="bold">*</text>
<line x1="324.30" y1="214.00" x2="343.70" y2="214.00" stroke="#444" stroke-width="1.15"/>
<text x="333.50" y="213.90" font-size="8.2" text-anchor="middle" fill="#111" font-weight="bold">*</text>
<line x1="448.55" y1="268.30" x2="448.55" y2="267.60" stroke="#333" stroke-width="1.2"/>
<line x1="445.35" y1="267.60" x2="451.75" y2="267.60" stroke="#333" stroke-width="1.25"/>
<rect x="442.20" y="268.30" width="12.7" height="0.90" fill="#d3d3d3"/>
<line x1="448.55" y1="269.20" x2="448.55" y2="271.50" stroke="#222" stroke-width="1.0"/>
<text transform="translate(451.75,279.80) rotate(-30)" font-size="9.6" text-anchor="end" fill="#1a1a1a" stroke="#1a1a1a" stroke-width="0.3">PBS</text>
<line x1="466.55" y1="259.40" x2="466.55" y2="257.90" stroke="#333" stroke-width="1.2"/>
<line x1="463.35" y1="257.90" x2="469.75" y2="257.90" stroke="#333" stroke-width="1.25"/>
<rect x="460.20" y="259.40" width="12.7" height="9.80" fill="#a4a4a9"/>
<line x1="466.55" y1="269.20" x2="466.55" y2="271.50" stroke="#222" stroke-width="1.0"/>
<text transform="translate(469.75,279.80) rotate(-30)" font-size="9.6" text-anchor="end" fill="#1a1a1a" stroke="#1a1a1a" stroke-width="0.3">VLPs</text>
<line x1="484.55" y1="239.70" x2="484.55" y2="231.30" stroke="#333" stroke-width="1.2"/>
<line x1="481.35" y1="231.30" x2="487.75" y2="231.30" stroke="#333" stroke-width="1.25"/>
<rect x="478.20" y="239.70" width="12.7" height="29.50" fill="#858585"/>
<line x1="484.55" y1="269.20" x2="484.55" y2="271.50" stroke="#222" stroke-width="1.0"/>
<text transform="translate(489.05,279.60) rotate(-30)" font-size="9.4" text-anchor="end" fill="#1a1a1a" stroke="#1a1a1a" stroke-width="0.3">VLPs-CaP-1</text>
<line x1="502.55" y1="220.40" x2="502.55" y2="211.20" stroke="#333" stroke-width="1.2"/>
<line x1="499.35" y1="211.20" x2="505.75" y2="211.20" stroke="#333" stroke-width="1.25"/>
<rect x="496.20" y="220.40" width="12.7" height="48.80" fill="#656565"/>
<line x1="502.55" y1="269.20" x2="502.55" y2="271.50" stroke="#222" stroke-width="1.0"/>
<text transform="translate(507.05,279.60) rotate(-30)" font-size="9.4" text-anchor="end" fill="#1a1a1a" stroke="#1a1a1a" stroke-width="0.3">VLPs-CaP-2</text>
<line x1="520.55" y1="236.40" x2="520.55" y2="226.50" stroke="#333" stroke-width="1.2"/>
<line x1="517.35" y1="226.50" x2="523.75" y2="226.50" stroke="#333" stroke-width="1.25"/>
<rect x="514.20" y="236.40" width="12.7" height="32.80" fill="#323232"/>
<line x1="520.55" y1="269.20" x2="520.55" y2="271.50" stroke="#222" stroke-width="1.0"/>
<text transform="translate(525.05,279.60) rotate(-30)" font-size="9.4" text-anchor="end" fill="#1a1a1a" stroke="#1a1a1a" stroke-width="0.3">VLPs-CaP-3</text>
<line x1="538.55" y1="227.40" x2="538.55" y2="216.00" stroke="#333" stroke-width="1.2"/>
<line x1="535.35" y1="216.00" x2="541.75" y2="216.00" stroke="#333" stroke-width="1.25"/>
<rect x="532.20" y="227.40" width="12.7" height="41.80" fill="#000000"/>
<line x1="538.55" y1="269.20" x2="538.55" y2="271.50" stroke="#222" stroke-width="1.0"/>
<text transform="translate(543.05,279.60) rotate(-30)" font-size="9.4" text-anchor="end" fill="#1a1a1a" stroke="#1a1a1a" stroke-width="0.3">VLPs-CaP-4</text>
<line x1="438.90" y1="191.80" x2="438.90" y2="269.70" stroke="#2e2e2e" stroke-width="1.1"/>
<line x1="438.40" y1="269.20" x2="546.50" y2="269.20" stroke="#2e2e2e" stroke-width="1.05"/>
<line x1="436.80" y1="269.20" x2="438.90" y2="269.20" stroke="#333" stroke-width="1.0"/>
<text x="436.60" y="274.00" font-size="9.6" text-anchor="end" fill="#1a1a1a" stroke="#1a1a1a" stroke-width="0.3">0</text>
<line x1="436.80" y1="249.97" x2="438.90" y2="249.97" stroke="#333" stroke-width="1.0"/>
<text x="436.60" y="254.00" font-size="9.6" text-anchor="end" fill="#1a1a1a" stroke="#1a1a1a" stroke-width="0.3">30</text>
<line x1="436.80" y1="230.75" x2="438.90" y2="230.75" stroke="#333" stroke-width="1.0"/>
<text x="436.60" y="234.00" font-size="9.6" text-anchor="end" fill="#1a1a1a" stroke="#1a1a1a" stroke-width="0.3">60</text>
<line x1="436.80" y1="211.53" x2="438.90" y2="211.53" stroke="#333" stroke-width="1.0"/>
<text x="436.60" y="215.00" font-size="9.6" text-anchor="end" fill="#1a1a1a" stroke="#1a1a1a" stroke-width="0.3">90</text>
<line x1="436.80" y1="192.30" x2="438.90" y2="192.30" stroke="#333" stroke-width="1.0"/>
<text x="436.60" y="196.00" font-size="9.6" text-anchor="end" fill="#1a1a1a" stroke="#1a1a1a" stroke-width="0.3">120</text>
<text transform="translate(420.80,230.10) rotate(-90)" font-size="9.8" text-anchor="middle" fill="#1a1a1a" stroke="#1a1a1a" stroke-width="0.2">Neutralization Titer</text>
<text x="431.70" y="174.40" font-size="9.1" text-anchor="start" fill="#000" font-weight="bold" stroke="#000" stroke-width="0.3">h</text>
<line x1="465.30" y1="183.60" x2="539.80" y2="183.60" stroke="#444" stroke-width="1.15"/>
<text x="500.40" y="183.30" font-size="8.2" text-anchor="middle" fill="#111" font-weight="bold">*</text>
<text x="506.60" y="183.30" font-size="8.2" text-anchor="middle" fill="#111" font-weight="bold">*</text>
<line x1="465.30" y1="193.80" x2="521.50" y2="193.80" stroke="#444" stroke-width="1.15"/>
<text x="490.10" y="193.20" font-size="8.2" text-anchor="middle" fill="#111" font-weight="bold">*</text>
<text x="496.40" y="193.20" font-size="8.2" text-anchor="middle" fill="#111" font-weight="bold">*</text>
<line x1="465.30" y1="203.40" x2="500.60" y2="203.40" stroke="#444" stroke-width="1.15"/>
<text x="477.00" y="203.10" font-size="8.2" text-anchor="middle" fill="#111" font-weight="bold">*</text>
<text x="483.50" y="203.10" font-size="8.2" text-anchor="middle" fill="#111" font-weight="bold">*</text>
<text x="490.00" y="203.10" font-size="8.2" text-anchor="middle" fill="#111" font-weight="bold">*</text>
<line x1="465.30" y1="213.20" x2="483.60" y2="213.20" stroke="#444" stroke-width="1.15"/>
<text x="472.20" y="212.70" font-size="8.2" text-anchor="middle" fill="#111" font-weight="bold">*</text>
<text x="478.40" y="212.70" font-size="8.2" text-anchor="middle" fill="#111" font-weight="bold">*</text>
</svg>
</body></html>
